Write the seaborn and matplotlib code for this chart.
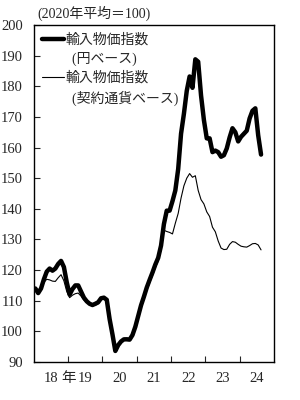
import numpy as np
import pandas as pd
import matplotlib
matplotlib.use("Agg")
import matplotlib.pyplot as plt
from matplotlib.lines import Line2D
import seaborn as sns

# monthly, 2018/1 - 2024/8 (2020 average = 100)
months = pd.date_range("2018-01-01", "2024-08-01", freq="MS")

yen_basis = [
    # 2018
    114.0, 112.5, 114.0, 117.0, 119.5, 120.5, 119.8, 120.5, 122.0, 123.0, 121.0, 116.0,
    # 2019
    112.0, 113.8, 115.0, 115.0, 113.0, 111.0, 109.8, 109.0, 108.6, 109.0, 109.5, 110.8,
    # 2020
    111.0, 110.3, 104.0, 99.0, 93.6, 95.5, 96.7, 97.4, 97.4, 97.3, 98.8, 101.5,
    # 2021
    105.0, 108.5, 111.3, 114.3, 116.8, 119.2, 121.8, 124.0, 128.0, 135.0, 139.4, 139.4,
    # 2022
    142.5, 146.0, 153.0, 164.5, 171.0, 178.5, 183.2, 179.5, 188.8, 188.0, 177.0, 169.0,
    # 2023
    163.0, 163.0, 158.5, 159.0, 158.5, 157.0, 157.5, 159.7, 163.3, 166.3, 165.0, 162.0,
    # 2024
    163.5, 164.5, 165.5, 169.5, 172.0, 172.8, 164.0, 157.7,
]

contract_basis = [
    # 2018
    114.0, 112.5, 114.0, 116.0, 117.0, 116.8, 116.4, 116.3, 117.5, 118.5, 116.5, 113.0,
    # 2019
    111.0, 111.8, 112.3, 112.5, 111.5, 110.2, 109.5, 108.8, 108.3, 108.6, 109.0, 110.3,
    # 2020
    110.7, 110.0, 104.0, 98.8, 93.8, 95.5, 97.0, 97.6, 97.8, 97.7, 99.0, 101.2,
    # 2021
    104.0, 107.5, 110.5, 113.3, 115.8, 118.2, 120.8, 123.0, 126.5, 133.0, 132.6, 132.3,
    # 2022
    131.8, 135.3, 138.5, 143.5, 147.5, 150.0, 151.5, 150.3, 150.8, 146.0, 143.0, 141.6,
    # 2023
    139.0, 137.5, 134.0, 132.5, 129.5, 127.2, 126.7, 126.8, 128.4, 129.3, 129.1, 128.4,
    # 2024
    127.8, 127.6, 127.5, 128.0, 128.6, 128.7, 128.2, 126.6,
]

year_labels = ["18", "19", "20", "21", "22", "23", "24"]
legend_yen = ["輸入物価指数", "(円ベース)"]
legend_contract = ["輸入物価指数", "(契約通貨ベース)"]
unit_note = "(2020年平均＝100)"

df = pd.DataFrame({
    "t": months.year + (months.month - 0.5) / 12,
    "yen": yen_basis,
    "contract": contract_basis,
})

sns.set_style("ticks")
plt.rcParams["font.family"] = ["Liberation Serif", "Noto Sans CJK JP"]
plt.rcParams["font.size"] = 10

fig = plt.figure(figsize=(3, 4), dpi=100)
ax = fig.add_axes([0.113, 0.095, 0.8, 0.8425])

sns.lineplot(data=df, x="t", y="contract", ax=ax, color="black", linewidth=0.8)
sns.lineplot(data=df, x="t", y="yen", ax=ax, color="black", linewidth=3.2)

ax.set_xlim(2018, 2025)
ax.set_ylim(90, 200)
ax.set_yticks(np.arange(90, 201, 10))
ax.set_xlabel("")
ax.set_ylabel("")

# year boundaries as tick marks, year names centred between them
ax.set_xticks(np.arange(2019, 2025))
ax.set_xticklabels(["年", "", "", "", "", ""])
ax.set_xticks(np.arange(2018.5, 2025), minor=True)
ax.set_xticklabels(year_labels, minor=True)
ax.tick_params(axis="x", which="major", direction="in", length=4, width=0.8, pad=7, labelsize=10.5)
ax.tick_params(axis="x", which="minor", length=0, pad=7, labelsize=10.5)
ax.tick_params(axis="y", direction="in", length=4, width=0.8, pad=8, labelsize=10.5)
for s in ax.spines.values():
    s.set_visible(True)
    s.set_linewidth(1.0)
    s.set_color("black")

handles = [
    Line2D([], [], color="black", linewidth=3.2),
    Line2D([], [], color="none"),
    Line2D([], [], color="black", linewidth=0.8),
    Line2D([], [], color="none"),
]
labels = [legend_yen[0], "  " + legend_yen[1], legend_contract[0], "  " + legend_contract[1]]
ax.legend(handles, labels, loc="upper left", bbox_to_anchor=(0.0, 1.0), frameon=False,
          handlelength=1.6, handletextpad=0.05, labelspacing=0.38, borderaxespad=0.2,
          fontsize=10)

ax.text(0.015, 1.012, unit_note, transform=ax.transAxes, ha="left", va="bottom", fontsize=10)

plt.savefig("out.png", dpi=100)
